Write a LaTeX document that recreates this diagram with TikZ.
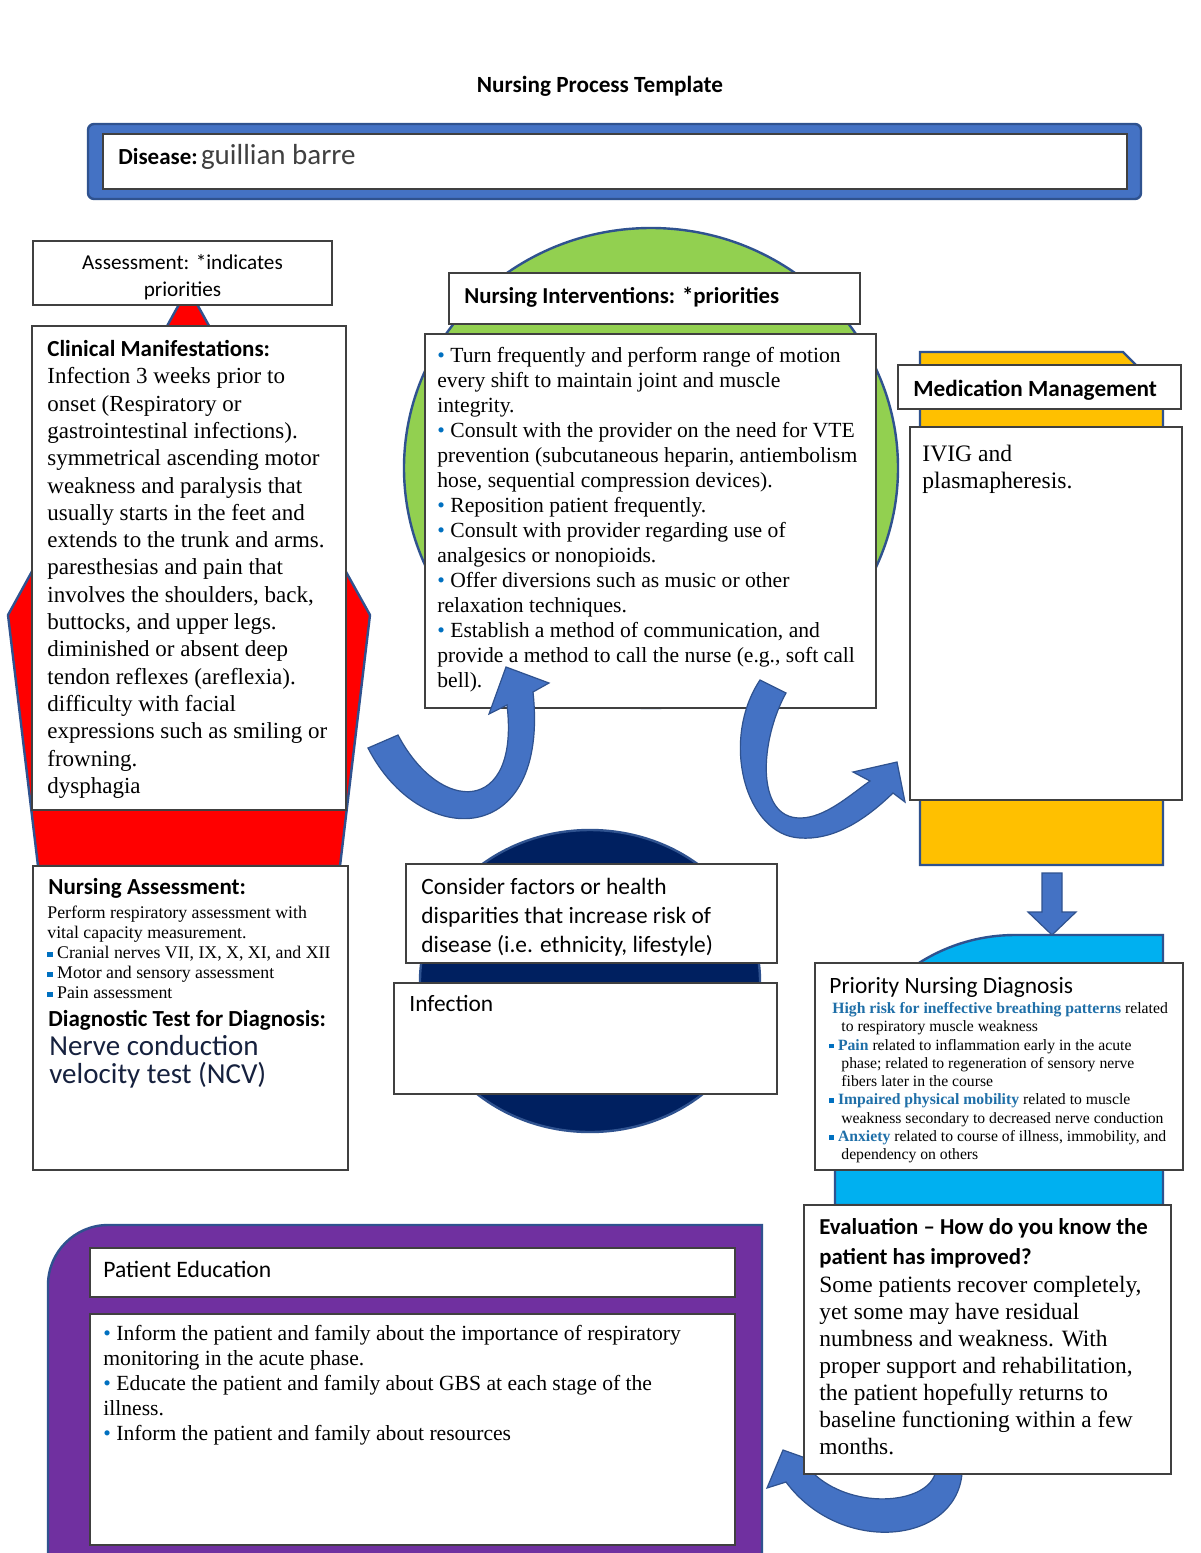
\documentclass[tikz,border=0pt]{standalone}
\usepackage{fontspec}
\setmainfont{Liberation Serif}
\setsansfont{Carlito}
\usetikzlibrary{fit}
\definecolor{myblue}{RGB}{68,114,196}
\definecolor{myedge}{RGB}{47,82,143}
\definecolor{myred}{RGB}{255,0,0}
\definecolor{mygreen}{RGB}{146,208,80}
\definecolor{myyellow}{RGB}{255,192,0}
\definecolor{mycyan}{RGB}{0,176,240}
\definecolor{mynavy}{RGB}{0,32,96}
\definecolor{mypurple}{RGB}{112,48,160}
\definecolor{bulblue}{RGB}{0,112,192}
\definecolor{kwblue}{RGB}{31,111,168}
\definecolor{ncvblue}{RGB}{22,33,62}

\newcommand{\fsz}[2]{\fontsize{#1}{#2}\selectfont}
\newcommand{\bul}{\textcolor{bulblue}{\textbullet}\ }
\newcommand{\sqb}{\textcolor{bulblue}{\rule[0.25ex]{0.3em}{0.3em}}\ }
\newcommand{\kw}[1]{\textcolor{kwblue}{\textbf{#1}}}

\tikzset{
  shapeedge/.style={draw=myedge, line width=1.2pt},
  frame/.style={draw=black!75, fill=white, line width=0.7pt, inner sep=0pt},
  txt/.style={anchor=north west, inner sep=0pt, align=left},
  lbl/.style={anchor=base west, inner sep=0pt},
  bigarrow/.style={fill=myblue, draw=myedge, line width=0.6pt},
}

\begin{document}
\begin{tikzpicture}[x=0.5pt,y=-0.5pt]
\useasboundingbox[fill=white] (0,0) rectangle (1200,1553);

\node[anchor=base, inner sep=0pt, font=\sffamily\bfseries\fsz{11.6}{13}] (title) at (600,92) {Nursing Process Template};

% disease banner
\draw[shapeedge, fill=myblue, rounded corners=3pt] (88,124) rectangle (1141,199);
\node[frame, fit={(103,134) (1127,189)}] (disease) {};
\node[lbl, font=\sffamily] (diseasetxt) at (118,164) {{\bfseries\fsz{11.5}{13}Disease:}\,{\fsz{14.5}{16}\color{black!75}guillian barre}};

% coloured shapes behind the boxes
\draw[shapeedge, fill=myred] (188,288) -- (370,615) -- (340,866) -- (38,866) -- (8,615) -- cycle;
\draw[shapeedge, fill=mygreen] (651,468) ellipse [x radius=247, y radius=240];
\draw[shapeedge, fill=myyellow] (920,352) -- (1123,352) -- (1163,392) -- (1163,865) -- (920,865) -- cycle;
\draw[shapeedge, fill=mycyan] (835,1205) -- (835,1115) .. controls (835,1016) and (916,935) .. (1015,935) -- (1163,935) -- (1163,1205) -- cycle;
\draw[shapeedge, fill=mynavy] (590,981) ellipse [x radius=170, y radius=151];
\draw[shapeedge, fill=mypurple] (48,1560) -- (48,1285) .. controls (48,1252) and (75,1225) .. (108,1225) -- (762,1225) -- (762,1560) -- cycle;

% assessment column
\node[frame, fit={(33,241) (332,305)}] (assess) {};
\node[align=center, inner sep=0pt, font=\sffamily\fsz{10.6}{13.5}] (assesstxt) at ([yshift=-2pt]assess.center) {Assessment: *indicates\\priorities};

\node[frame, fit={(32,326) (346,810)}] (clin) {};
\node[txt, font=\fsz{11.5}{13.65}] (clintxt) at (47,340) {{\sffamily\bfseries Clinical Manifestations:}\\
Infection 3 weeks prior to\\
onset (Respiratory or\\
gastrointestinal infections).\\
symmetrical ascending motor\\
weakness and paralysis that\\
usually starts in the feet and\\
extends to the trunk and arms.\\
paresthesias and pain that\\
involves the shoulders, back,\\
buttocks, and upper legs.\\
diminished or absent deep\\
tendon reflexes (areflexia).\\
difficulty with facial\\
expressions such as smiling or\\
frowning.\\
dysphagia};

\node[frame, fit={(33,866) (348,1170)}] (nassess) {};
\node[lbl, font=\sffamily\bfseries\fsz{11.5}{13}] (nasshead) at (48,894) {Nursing Assessment:};
\node[txt, font=\fsz{8.9}{10}] (nasstxt) at (47,906) {Perform respiratory assessment with\\
vital capacity measurement.\\
\sqb Cranial nerves VII, IX, X, XI, and XII\\
\sqb Motor and sensory assessment\\
\sqb Pain assessment};
\node[lbl, font=\sffamily\bfseries\fsz{11.5}{13}] (diaghead) at (48,1026) {Diagnostic Test for Diagnosis:};
\node[txt, font=\sffamily\fsz{14.5}{14}, text=ncvblue] (ncv) at (49,1035) {Nerve conduction\\velocity test (NCV)};

% interventions
\node[frame, fit={(449,273) (860,324)}] (nihead) {};
\node[lbl, font=\sffamily\bfseries\fsz{11.4}{13}] (niheadtxt) at (464,303) {Nursing Interventions: *priorities};
\node[frame, fit={(425,334) (876,708)}] (nibody) {};
\node[txt, font=\fsz{10.8}{12.5}] (nitxt) at (437,347) {\bul Turn frequently and perform range of motion\\
every shift to maintain joint and muscle\\
integrity.\\
\bul Consult with the provider on the need for VTE\\
prevention (subcutaneous heparin, antiembolism\\
hose, sequential compression devices).\\
\bul Reposition patient frequently.\\
\bul Consult with provider regarding use of\\
analgesics or nonopioids.\\
\bul Offer diversions such as music or other\\
relaxation techniques.\\
\bul Establish a method of communication, and\\
provide a method to call the nurse (e.g., soft call\\
bell).};

% medication
\node[frame, fit={(898,365) (1181,409)}] (medhead) {};
\node[lbl, font=\sffamily\bfseries\fsz{11.6}{13}] (medheadtxt) at (913,396) {Medication Management};
\node[frame, fit={(910,427) (1182,800)}] (medbody) {};
\node[txt, font=\fsz{11.8}{13.5}] (medtxt) at (922,445) {IVIG and\\plasmapheresis.};

\draw[bigarrow] (1042,873) -- (1062,873) -- (1062,912) -- (1076,912) -- (1052,935) -- (1028,912) -- (1042,912) -- cycle;

% risk factors
\node[frame, fit={(406,864) (777,963)}] (factors) {};
\node[txt, font=\sffamily\fsz{11.7}{14.5}] (factorstxt) at (421,878) {Consider factors or health\\
disparities that increase risk of\\
disease (i.e. ethnicity, lifestyle)};
\node[frame, fit={(394,983) (777,1094)}] (infect) {};
\node[lbl, font=\sffamily\fsz{11.7}{13}] (infecttxt) at (409,1011) {Infection};

% diagnosis
\node[frame, fit={(815,963) (1183,1170)}] (prio) {};
\node[lbl, font=\sffamily\fsz{11.7}{13}] (priohead) at (829,993) {Priority Nursing Diagnosis};
\node[txt, font=\fsz{7.85}{9.15}] (priotxt) at (832,1002) {\kw{High risk for ineffective breathing patterns} related\\
\hspace*{4.5pt}to respiratory muscle weakness\\
\hspace*{-1.5pt}\sqb\kw{Pain} related to inflammation early in the acute\\
\hspace*{4.5pt}phase; related to regeneration of sensory nerve\\
\hspace*{4.5pt}fibers later in the course\\
\hspace*{-1.5pt}\sqb\kw{Impaired physical mobility} related to muscle\\
\hspace*{4.5pt}weakness secondary to decreased nerve conduction\\
\hspace*{-1.5pt}\sqb\kw{Anxiety} related to course of illness, immobility, and\\
\hspace*{4.5pt}dependency on others};

% patient education
\node[frame, fit={(90,1248) (735,1297)}] (pedhead) {};
\node[lbl, font=\sffamily\fsz{11.8}{13}] (pedheadtxt) at (103,1277) {Patient Education};
\node[frame, fit={(90,1314) (735,1545)}] (pedbody) {};
\node[txt, font=\fsz{10.8}{12.5}] (pedtxt) at (103,1325) {\bul Inform the patient and family about the importance of respiratory\\
monitoring in the acute phase.\\
\bul Educate the patient and family about GBS at each stage of the\\
illness.\\
\bul Inform the patient and family about resources};

% arrow under the evaluation box
\draw[bigarrow] (962,1474) .. controls (955,1545) and (840,1555) .. (786,1482) -- (767,1488) -- (783,1450) -- (828,1466) -- (812,1472) .. controls (850,1510) and (925,1505) .. (935,1474) -- cycle;

% evaluation
\node[frame, fit={(804,1205) (1171,1474)}] (evalbox) {};
\node[txt, font=\sffamily\bfseries\fsz{11.4}{15}] (evalhead) at (819,1218) {Evaluation -- How do you know the\\patient has improved?};
\node[txt, font=\fsz{11.7}{13.5}] (evaltxt) at (819,1276) {Some patients recover completely,\\
yet some may have residual\\
numbness and weakness. With\\
proper support and rehabilitation,\\
the patient hopefully returns to\\
baseline functioning within a few\\
months.};

% curved arrows
\draw[bigarrow] (368,748) .. controls (420,850) and (550,850) .. (533,692) -- (549,683) -- (506,667) -- (489,714) -- (507,705) .. controls (520,815) and (440,815) .. (398,735) -- cycle;
\draw[bigarrow] (760,680) -- (786,693) .. controls (760,740) and (755,818) .. (800,818) .. controls (825,818) and (850,795) .. (870,781) -- (853,772) -- (897,762) -- (905,802) -- (893,793) .. controls (860,825) and (830,840) .. (800,838) .. controls (745,835) and (720,740) .. (760,680) -- cycle;
\end{tikzpicture}
\end{document}
